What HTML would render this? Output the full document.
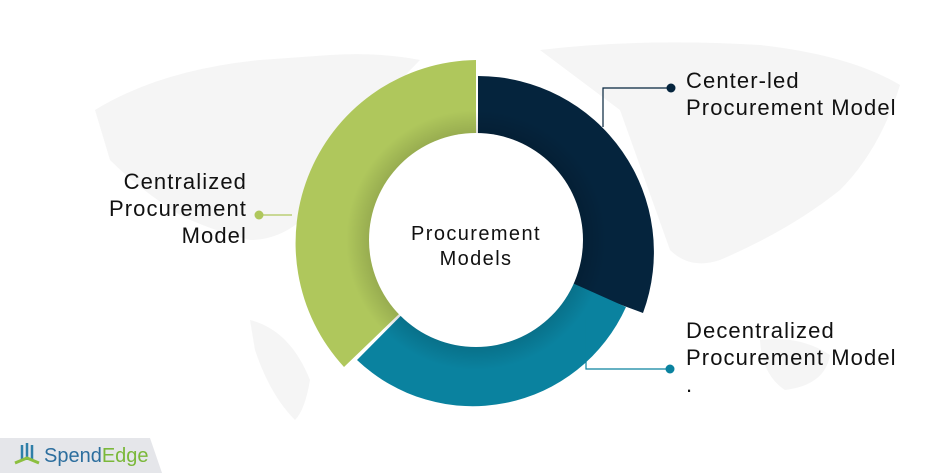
<!DOCTYPE html>
<html><head><meta charset="utf-8"><style>
body{margin:0;width:946px;height:473px;background:#fff;overflow:hidden;position:relative;font-family:"Liberation Sans",sans-serif}
.t{position:absolute;font-size:22px;line-height:27px;color:#111;letter-spacing:1.1px}
</style></head><body>
<svg width="946" height="473" style="position:absolute;left:0;top:0">
<defs>
<radialGradient id="sh" cx="476" cy="240" r="130" gradientUnits="userSpaceOnUse">
<stop offset="0.8" stop-color="#000" stop-opacity="0.25"/><stop offset="1" stop-color="#000" stop-opacity="0"/></radialGradient>
</defs>
<g fill="#f5f5f5">
<path d="M95 110 Q160 70 260 60 L330 55 Q380 52 420 60 Q360 120 320 200 Q290 240 250 240 Q210 230 180 215 Q140 190 110 160 Z"/>
<path d="M250 320 Q290 330 310 380 Q305 410 295 420 Q270 395 255 350 Z"/>
<path d="M540 50 Q640 38 760 45 Q850 55 900 85 Q880 150 840 190 Q790 230 720 260 Q690 270 670 250 L620 110 Z"/>
<path d="M760 340 Q800 335 830 355 Q825 385 785 390 Q762 375 760 340 Z"/>
</g>
<path d="M0 438 L150 438 L162 473 L0 473 Z" fill="#e5e6ea"/>
<path d="M476 240 L476 60 A183 183 0 0 0 344 367 Z" fill="#afc75c"/>
<path d="M478 252 L478 76 A176 176 0 0 1 643 313 Z" fill="#05243d"/>
<path d="M476 240 L357 360 A168 168 0 0 0 626 307 Z" fill="#0a829f"/>
<circle cx="476" cy="240" r="130" fill="url(#sh)" opacity="0.6"/>
<circle cx="476" cy="240" r="107" fill="#fff"/>
<g fill="none" stroke-width="1.2">
<path d="M671 88 H603 V127" stroke="#05243d"/>
<path d="M670 369 H586 V317" stroke="#0a829f"/>
<path d="M259 215 H292" stroke="#afc75c"/>
</g>
<circle cx="671" cy="88" r="4.5" fill="#05243d"/>
<circle cx="670" cy="369" r="4.5" fill="#0a829f"/>
<circle cx="259" cy="215" r="4.5" fill="#afc75c"/>
<g stroke="#2f7fa8" stroke-width="2.5" fill="none"><path d="M22 445 V460 M27 443 V460 M32 445 V460"/></g>
<path d="M15 463 L27 458 L39 463" stroke="#8cbf3f" stroke-width="3" fill="none"/>
<text x="44" y="462" font-family="Liberation Sans" font-size="20" fill="#2c6e9e">Spend<tspan fill="#7bb83a">Edge</tspan></text>
</svg>
<div class="t" style="right:699px;top:168px;text-align:right">Centralized<br>Procurement<br>Model</div>
<div class="t" style="left:686px;top:67px">Center-led<br>Procurement Model</div>
<div class="t" style="left:686px;top:317px">Decentralized<br>Procurement Model<br>.</div>
<div style="position:absolute;left:336px;width:280px;top:222px;text-align:center;font-size:20px;line-height:25px;color:#111;letter-spacing:1.4px">Procurement<br>Models</div>
</body></html>
